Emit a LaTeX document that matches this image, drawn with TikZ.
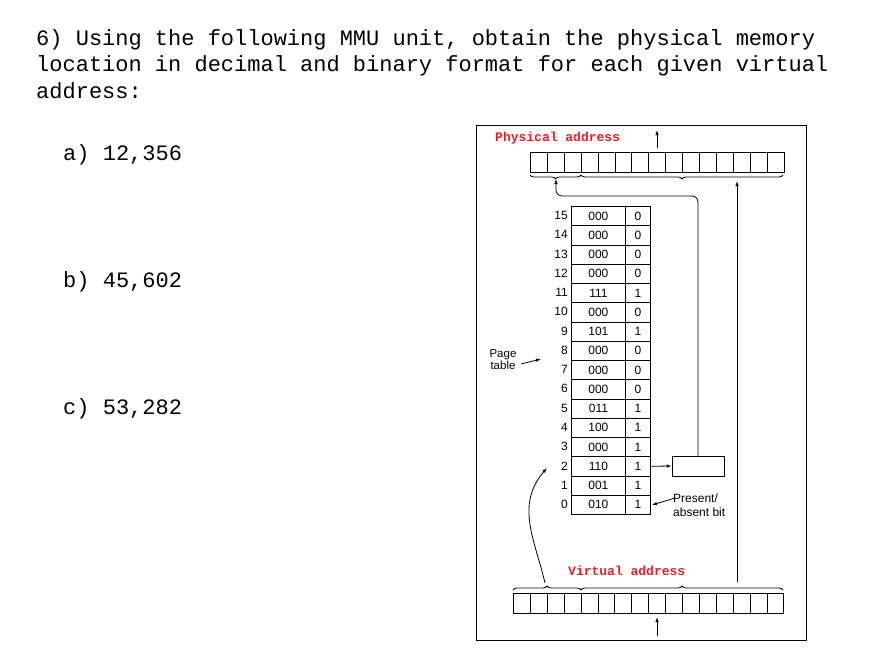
\documentclass[tikz,border=0pt]{standalone}
\usepackage{fontspec}
\setmainfont{Liberation Sans}
\newfontfamily\mono{Liberation Mono}
\usetikzlibrary{decorations.pathreplacing,arrows.meta}
\definecolor{lbl}{RGB}{235,30,40}
\begin{document}
\begin{tikzpicture}[x=1pt,y=-1pt,
  q/.style={font=\mono\fontsize{22}{24}\selectfont,anchor=west,inner sep=0},
  red/.style={font=\mono\bfseries\fontsize{13}{15}\selectfont,text=lbl,anchor=west,inner sep=0},
  cell/.style={draw,thick,minimum width=16.9pt,minimum height=20pt,inner sep=0,anchor=north west},
  pt/.style={font=\fontsize{12}{13}\selectfont,inner sep=0},
  arr/.style={-{Latex[length=5pt,width=3.5pt]},line width=0.8pt},
  br/.style={decorate,decoration={brace,amplitude=4pt},line width=0.8pt}]
\useasboundingbox (0,0) rectangle (881,672);
\node[q] (l1) at (36,40) {6) Using the following MMU unit, obtain the physical memory};
\node[q] (l2) at (36,66) {location in decimal and binary format for each given virtual};
\node[q] (l3) at (36,91) {address:};
\node[q] (a) at (63,155) {a) 12,356};
\node[q] (b) at (63,282) {b) 45,602};
\node[q] (c) at (63,409) {c) 53,282};
\draw[line width=0.9pt] (476,125) rectangle (806,640);
\node[red] (pa) at (495,138) {Physical address};
\node[red] (va) at (568,571) {Virtual address};
\foreach \i in {0,...,14} \node[cell] (p\i) at (530+\i*16.9,152) {};
\foreach \i in {0,...,15} \node[cell] (v\i) at (513+\i*16.9,593) {};
\coordinate (top) at (657,148); \coordinate (topend) at (657,130);
\draw[arr] (top) -- (topend);
\coordinate (bot) at (657,636); \coordinate (botend) at (657,617);
\draw[arr] (bot) -- (botend);
\draw[br] (581,175) -- (530,175);
\draw[br] (783,175) -- (581,175);
\draw[br] (513,590) -- (581,590);
\draw[br] (581,590) -- (783,590);
% page table
\foreach \r [evaluate=\r as \yy using 206+(15-\r)*19.25] in {0,...,15}{
  \node[draw,thick,minimum width=54pt,minimum height=19.25pt,inner sep=0,anchor=north west,pt] (e\r) at (571,\yy) {};
  \node[draw,thick,minimum width=25pt,minimum height=19.25pt,inner sep=0,anchor=north west,pt] (b\r) at (625,\yy) {};
  \node[pt,anchor=east] (n\r) at (568,\yy+9.6) {\r};
}
\foreach \r/\f/\b in {15/000/0,14/000/0,13/000/0,12/000/0,11/111/1,10/000/0,9/101/1,8/000/0,7/000/0,6/000/0,5/011/1,4/100/1,3/000/1,2/110/1,1/001/1,0/010/1}{
  \node[pt] at (e\r) {\f};
  \node[pt] at (b\r) {\b};
}
\node[draw,thick,minimum width=52pt,minimum height=20pt,inner sep=0] (reg) at (698,466) {};
\draw[arr] (b2.east) -- (reg.west);
\coordinate (t1) at (556,179);
\draw[arr,rounded corners=6pt] (reg.north) -- (698,196) -- (556,196) -- (t1);
\coordinate (t2) at (737,181);
\draw[arr] (737,582) -- (t2);
\coordinate (c1) at (547,468);
\draw[arr] (545,583) .. controls (535,540) and (515,505) .. (c1);
\node[pt,align=center,font=\fontsize{11.5}{12}\selectfont] (pg) at (503,360) {Page\\table};
\draw[arr] (521,364) -- (541,359);
\node[pt,align=left,anchor=west,font=\fontsize{12}{13.5}\selectfont] (pab) at (673,505) {Present/\\absent bit};
\draw[arr] (675,498) -- (652,505);
\end{tikzpicture}
\end{document}
